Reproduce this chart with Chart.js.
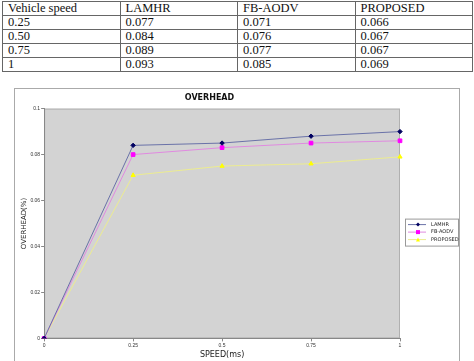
<!DOCTYPE html>
<html>
<head>
<meta charset="utf-8">
<script src="https://cdn.jsdelivr.net/npm/chart.js@4/dist/chart.umd.min.js"></script>
<style>
  body { margin: 0; background: #fff; width: 474px; height: 361px; overflow: hidden; position: relative; }
  table { position: absolute; left: 2px; top: 1px; width: 471px; border-collapse: collapse;
          font-family: "Liberation Serif", serif; font-size: 12.5px; color: #111; }
  td { border: 1px solid #666; height: 13px; padding: 0 0 0 5px; line-height: 13px; width: 25%; }
  #frame { position: absolute; left: 14px; top: 88px; width: 444px; height: 300px; border: 1px solid #aaa; }
  #chart { position: absolute; left: 0; top: 0; }
</style>
</head>
<body>
<table id="tbl"></table>
<div id="frame"><canvas id="chart" width="444" height="273"></canvas></div>
<script>
// table values
var tableHead = ['Vehicle speed', 'LAMHR', 'FB-AODV', 'PROPOSED'];
var tableSpeed = ['0.25', '0.50', '0.75', '1'];
var tableLamhr = ['0.077', '0.084', '0.089', '0.093'];
var tableFb = ['0.071', '0.076', '0.077', '0.085'];
var tableProposed = ['0.066', '0.067', '0.067', '0.069'];

// chart values
var speeds = ['0', '0.25', '0.5', '0.75', '1'];
var lamhr = [0, 0.084, 0.085, 0.088, 0.090];
var fbAodv = [0, 0.080, 0.083, 0.085, 0.086];
var proposed = [0, 0.071, 0.075, 0.076, 0.079];

var html = '<tr>' + tableHead.map(function(h) { return '<td>' + h + '</td>'; }).join('') + '</tr>';
for (var i = 0; i < tableSpeed.length; i++) {
    html += '<tr><td>' + tableSpeed[i] + '</td><td>' + tableLamhr[i] + '</td><td>' +
        tableFb[i] + '</td><td>' + tableProposed[i] + '</td></tr>';
}
document.getElementById('tbl').innerHTML = html;

var plotBg = {
    id: 'plotBg',
    beforeDraw: function(chart) {
        var a = chart.chartArea, ctx = chart.ctx;
        ctx.save();
        ctx.fillStyle = '#d3d3d3';
        ctx.fillRect(a.left, a.top, a.right - a.left, a.bottom - a.top);
        ctx.strokeStyle = '#b0b0b0';
        ctx.lineWidth = 1;
        ctx.strokeRect(a.left + 0.5, a.top + 0.5, a.right - a.left - 1, a.bottom - a.top - 1);
        ctx.restore();
    }
};

var boxLegend = {
    id: 'boxLegend',
    afterDraw: function(chart) {
        var a = chart.chartArea, ctx = chart.ctx;
        var x = a.right + 5, y = a.top + 110, w = 53, h = 27;
        ctx.save();
        ctx.fillStyle = '#fff';
        ctx.fillRect(x, y, w, h);
        ctx.strokeStyle = '#999';
        ctx.lineWidth = 1;
        ctx.strokeRect(x + 0.5, y + 0.5, w, h);
        ctx.font = '5px "DejaVu Sans", sans-serif';
        ctx.textBaseline = 'middle';
        chart.data.datasets.forEach(function(ds, k) {
            var cy = y + 6 + k * 7.5;
            ctx.strokeStyle = ds.borderColor;
            ctx.beginPath();
            ctx.moveTo(x + 3, cy);
            ctx.lineTo(x + 21, cy);
            ctx.stroke();
            ctx.fillStyle = ds.pointBackgroundColor;
            ctx.beginPath();
            if (k === 0) { ctx.moveTo(x + 13, cy - 2); ctx.lineTo(x + 15, cy); ctx.lineTo(x + 13, cy + 2); ctx.lineTo(x + 11, cy); }
            else if (k === 1) { ctx.rect(x + 11, cy - 2, 4, 4); }
            else { ctx.moveTo(x + 13, cy - 2); ctx.lineTo(x + 15, cy + 2); ctx.lineTo(x + 11, cy + 2); }
            ctx.fill();
            ctx.fillStyle = '#222';
            ctx.fillText(ds.label, x + 26, cy);
        });
        ctx.restore();
    }
};

var ctx = document.getElementById('chart').getContext('2d');
new Chart(ctx, {
    type: 'line',
    data: {
        labels: speeds,
        datasets: [{
            label: 'LAMHR',
            data: lamhr,
            borderColor: '#6a72a8',
            pointBackgroundColor: '#000060',
            pointBorderColor: '#000060',
            pointStyle: 'rectRot',
            pointRadius: 2.2,
            borderWidth: 1
        }, {
            label: 'FB-AODV',
            data: fbAodv,
            borderColor: '#e08ae0',
            pointBackgroundColor: '#ff00ff',
            pointBorderColor: '#ff00ff',
            pointStyle: 'rect',
            pointRadius: 2.6,
            borderWidth: 1
        }, {
            label: 'PROPOSED',
            data: proposed,
            borderColor: '#ecec90',
            pointBackgroundColor: '#ffff00',
            pointBorderColor: '#ffff00',
            pointStyle: 'triangle',
            pointRadius: 2.4,
            borderWidth: 1
        }]
    },
    options: {
        responsive: false,
        animation: false,
        devicePixelRatio: 1,
        layout: { padding: { left: 4, right: 59, top: 0, bottom: 0 } },
        plugins: {
            legend: { display: false },
            tooltip: { enabled: false },
            title: {
                display: true,
                text: 'OVERHEAD',
                color: '#111',
                font: { family: 'DejaVu Sans', size: 8, weight: 'bold' },
                padding: { top: 4, bottom: 6 }
            }
        },
        scales: {
            x: {
                offset: false,
                grid: { drawOnChartArea: false, tickLength: 3, color: '#888' },
                border: { color: '#888' },
                ticks: { color: '#333', font: { size: 5 }, padding: 1, maxRotation: 0 },
                title: { display: true, text: 'SPEED(ms)', color: '#222', font: { family: 'DejaVu Sans', size: 8 }, padding: { top: 1, bottom: 2 } }
            },
            y: {
                min: 0,
                max: 0.1,
                ticks: {
                    stepSize: 0.02, color: '#333', font: { size: 5 }, padding: 1,
                    callback: function(v) { return String(parseFloat(v.toFixed(2))); }
                },
                grid: { drawOnChartArea: false, tickLength: 3, color: '#888' },
                border: { color: '#888' },
                title: { display: true, text: 'OVERHEAD(%)', color: '#222', font: { family: 'DejaVu Sans', size: 7 }, padding: 1 }
            }
        }
    },
    plugins: [plotBg, boxLegend]
});
</script>
</body>
</html>
